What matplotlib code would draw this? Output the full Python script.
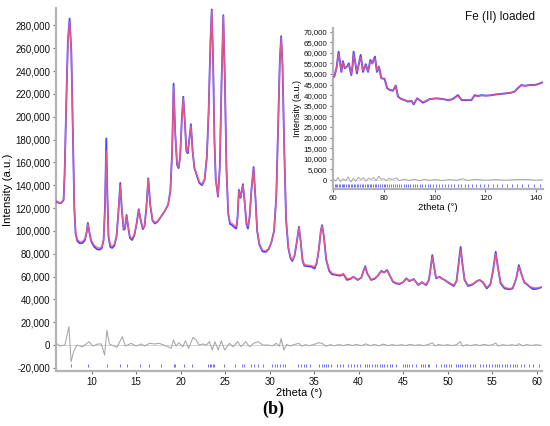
import matplotlib
matplotlib.use("Agg")
import matplotlib.pyplot as plt
from matplotlib.ticker import FuncFormatter

plt.rcParams['font.family'] = ['Liberation Sans', 'DejaVu Sans']

# ---------------- main pattern (2theta in deg, intensity in thousands) ----------------
tt = [6.00, 6.30, 6.60, 6.85, 6.97, 7.16, 7.34, 7.53, 7.72, 7.90, 8.06, 8.20, 8.40, 8.70, 9.00,
      9.25, 9.45, 9.58, 9.72, 9.95, 10.30, 10.60, 10.90, 11.15, 11.35, 11.50, 11.65, 11.78, 11.90,
      12.10, 12.30, 12.55, 12.80, 13.00, 13.22, 13.40, 13.60, 13.75, 13.93, 14.10, 14.30, 14.55,
      14.80, 15.05, 15.30, 15.50, 15.75, 15.95, 16.15, 16.37, 16.60, 16.85, 17.10, 17.40, 17.75,
      18.20, 18.60, 18.85, 19.05, 19.21, 19.40, 19.60, 19.78, 19.95, 20.15, 20.30, 20.48, 20.65,
      20.80, 20.95, 21.16, 21.35, 21.55, 21.80, 22.10, 22.40, 22.70, 22.95, 23.15, 23.35, 23.50,
      23.65, 23.80, 23.95, 24.20, 24.40, 24.60, 24.80, 24.98, 25.15, 25.35, 25.55, 25.80, 26.05,
      26.26, 26.40, 26.55, 26.74, 27.00, 27.20, 27.40, 27.56, 27.75, 27.95, 28.20, 28.40, 28.60,
      28.85, 29.20, 29.55, 29.90, 30.20, 30.50, 30.75, 30.95, 31.15, 31.30, 31.45, 31.65, 31.85,
      32.10, 32.35, 32.55, 32.80, 33.05, 33.30, 33.50, 33.70, 33.90, 34.30, 34.70, 35.05, 35.30,
      35.55, 35.75, 35.90, 36.10, 36.35, 36.70, 37.00, 37.40, 37.90, 38.30, 38.70, 39.10, 39.40,
      39.90, 40.30, 40.55, 40.75, 40.95, 41.40, 41.80, 42.20, 42.55, 42.85, 43.20, 43.50, 43.85,
      44.20, 44.60, 45.00, 45.36, 45.70, 46.20, 46.70, 47.10, 47.60, 47.90, 48.10, 48.28, 48.45,
      48.70, 49.10, 49.40, 49.66, 50.20, 50.70, 51.00, 51.25, 51.46, 51.65, 51.90, 52.30, 52.80,
      53.30, 53.60, 53.95, 54.40, 54.80, 55.10, 55.40, 55.65, 55.95, 56.40, 56.90, 57.30, 57.70,
      58.00, 58.30, 58.60, 59.00, 59.30, 59.60, 60.00, 60.50]

y_obs = [126, 124.5, 124.5, 127, 150, 214, 267, 286, 258, 185, 120, 98, 91, 89, 89.5,
         92, 99, 107, 100, 91, 86, 84, 83.5, 85, 92, 120, 181, 130, 95,
         86, 85, 87, 95, 115, 142, 118, 101, 102, 114, 104, 94, 92,
         96, 106, 119, 110, 101.5, 104, 120, 146, 122, 109, 106.5, 108, 112,
         117, 123, 135, 170, 229, 185, 158, 155, 165, 200, 217.5, 195, 170,
         168, 178, 193.5, 170, 155, 149, 142, 140, 145, 165, 205, 265, 294,
         250, 180, 145, 130, 155, 230, 289, 230, 155, 115, 106, 105, 103,
         102, 112, 136, 129, 141, 125, 106, 102, 112, 135, 156, 130, 100,
         88, 82, 81.5, 84, 90, 100, 130, 190, 250, 270.6, 245, 170, 110,
         85, 76, 73.6, 78, 90, 103.6, 90, 74, 69.5, 69, 68.6, 67, 72,
         85, 100, 105, 95, 75, 64.8, 62, 61.5, 60.7, 62, 57, 58, 59.8,
         57, 59, 65, 69, 63, 57, 58, 61, 65, 63.5, 65.7, 61, 55.5,
         54, 53.4, 55, 58.4, 56, 57.8, 52.5, 55, 52.5, 57, 68, 78.8, 70,
         58.4, 59.8, 58, 57, 54, 51.7, 56, 72, 86, 72, 57, 51.7, 53,
         56, 57, 55, 49.6, 53, 65, 81.7, 68, 54, 49.6, 48.8, 49.5, 58,
         70, 62, 55, 52.5, 50.5, 49, 49.2, 50.5]

y_calc = [126.5, 125, 125, 127.5, 150, 213, 265, 283, 256, 185, 121, 99.5, 92.5, 90.5, 91,
          93, 99.5, 106, 100, 92, 87.5, 85.5, 85, 86, 92.5, 118, 170, 128, 96,
          87.5, 87, 88, 95.5, 115, 140, 118, 102, 102.5, 113, 104.5, 95, 93.5,
          97, 106, 118, 110, 102.5, 104.5, 120, 145, 122, 109.5, 107.5, 108.5, 112,
          117, 123, 135, 169, 226, 185, 159, 156, 165, 199, 216, 195, 171,
          169, 178, 192, 170, 155, 150, 143, 141, 145.5, 165, 205, 264, 293,
          250, 180, 145.5, 131, 155, 230, 288, 230, 155, 116, 107.5, 106.5, 104.5,
          104, 112, 135, 130, 140, 125, 107, 104, 112, 135, 155, 130, 101,
          89, 83, 82.5, 84.5, 90, 100, 130, 190, 249, 269, 245, 170, 111,
          86, 77, 74.5, 78.5, 90, 103, 90, 75, 70.5, 70, 69.5, 68.5, 72.5,
          85, 99.5, 104, 95, 75.5, 66, 63, 62, 61.5, 62.5, 58, 58.5, 59.8,
          57.5, 59, 65, 68, 63, 57.5, 58.5, 61, 64.5, 63.5, 65, 61, 56,
          54.5, 54, 55, 58, 56.5, 57.5, 53, 55, 53, 57, 67.5, 77, 70,
          58.8, 59.5, 58, 57.2, 54.5, 52.5, 56, 71.5, 83.5, 71.5, 57.5, 52.5, 53.5,
          56, 57, 55.5, 50.5, 53.5, 65, 80, 68, 55, 50.5, 49.5, 50, 58,
          68.5, 62, 55.5, 53, 51, 50.5, 50, 50.8]

# difference curve (obs - calc), thousands
diff_tt = [6.0, 6.4, 7.0, 7.45, 7.7, 7.98, 8.35, 9.0, 9.7, 10.15, 10.7, 11.1, 11.46, 11.72, 12.0,
           12.85, 13.45, 13.8, 14.45, 15.0, 15.6, 15.95, 16.5, 17.1, 17.6, 18.4, 18.95, 19.2,
           19.5, 19.8, 20.25, 20.55, 20.9, 21.4, 21.75, 22.06, 22.5, 22.9, 23.25, 23.56, 23.86,
           24.23, 24.57, 24.94, 25.5, 25.9, 26.4, 26.8, 27.3, 27.75, 28.2, 28.7, 29.25, 29.8,
           30.35, 30.75, 31.1, 31.3, 31.6, 31.9, 32.3, 32.8, 33.3, 33.6, 34.0, 34.5, 35.0, 35.5,
           35.9, 36.3, 36.8, 37.3, 37.8, 38.3, 38.8, 39.3, 39.8, 40.3, 40.8, 41.3, 41.8, 42.3,
           42.8, 43.3, 43.8, 44.3, 44.8, 45.3, 45.8, 46.3, 46.8, 47.3, 47.8, 48.3, 48.6, 49.0,
           49.5, 50.0, 50.5, 51.0, 51.4, 51.7, 52.1, 52.6, 53.1, 53.6, 54.1, 54.6, 55.1, 55.4,
           55.7, 56.2, 56.7, 57.2, 57.7, 58.0, 58.4, 58.9, 59.4, 59.9, 60.5]
diff_y = [2, -0.9, 0, 16, -14.6, -5.8, 0, -1.5, 2.9, -0.9, 0.9, 0.9, -8.8, 13, 0.9,
          -2, 7.3, -0.9, 1.5, -0.9, 0.9, -0.9, 1.5, 0.9, 1.5, -0.9, -2.9, 4.4,
          -0.9, 2, -1.5, 3.8, -2.9, 6.7, 4.4, 0, 0.9, 0, 2.9, -4.4, 2.9,
          -4.4, 3.8, -4.4, 1.5, -1.5, 2.9, -1.5, 2.9, -1.5, 1.5, 2.9, 0, 0,
          -0.6, 1.5, -1, 5.8, -4.4, 0.5, -0.8, 0.5, 1.5, -1, 0.3, -0.5, 0.5, 2.0,
          1.5, -1, 0.3, -0.6, 0.4, -0.5, 0.6, -0.4, 0.5, -0.6, 1.0, -0.5, 0.4, -0.6,
          0.8, -0.5, 0.3, -0.4, 0.3, -0.5, 0.6, -0.4, 0.3, -0.5, 0.4, 1.8, -0.8, 0.5,
          -0.4, 0.3, -0.5, 0.3, 2.9, -1.0, 0.3, -0.5, 0.4, -0.4, 0.5, -0.3, 0.4, 1.8,
          -0.8, 0.3, -0.4, 0.3, -0.5, 1.2, -0.6, 0.3, -0.4, 0.2, -0.2]

bragg = [7.64, 9.6, 11.68, 13.24, 13.98, 15.4, 16.44, 17.78, 19.25, 19.4, 20.4, 21.25, 23.1, 23.3,
         23.45, 23.6, 23.8, 24.82, 26.07, 26.9, 27.15, 27.9, 28.3, 28.7, 29.3, 30.3, 30.55, 30.85,
         31.15, 31.45, 31.7, 33.2, 33.5, 33.85, 34.1, 34.5, 35.6, 35.85, 36.1, 36.3, 36.55, 36.9,
         37.6, 37.95, 38.3, 38.8, 39.2, 39.45, 39.8, 40.1, 40.7, 40.95, 41.2, 41.55, 41.8, 42.1,
         42.4, 42.6, 42.9, 43.2, 43.5, 43.8, 44.2, 45.0, 45.2, 45.45, 45.7, 46.0, 46.5, 47.0,
         47.25, 47.5, 47.75, 47.95, 48.7, 49.3, 49.6, 49.85, 50.1, 50.4, 50.9, 51.15, 51.4,
         51.65, 51.9, 52.2, 52.5, 52.8, 53.1, 53.6, 54.0, 54.3, 54.7, 55.0, 55.3, 55.55, 55.8,
         56.1, 56.45, 56.7, 57.0, 57.3, 57.6, 57.85, 58.2, 58.6, 59.1, 59.6, 60.3]

# ---------------- inset (high angle) ----------------
in_tt = [60.5, 61.4, 62.2, 62.8, 63.3, 63.9, 64.6, 65.5, 66.2, 67.2, 67.7, 68.1, 68.8, 69.4, 70.2,
         70.9, 71.8, 72.9, 73.8, 74.7, 75.5, 76.5, 77.3, 78.1, 79.0, 80.3, 81.3, 82.3, 83.6,
         84.7, 85.6, 86.9, 88.2, 89.5, 90.9, 91.8, 93.1, 94.1, 95.4, 96.8, 98.1, 100.7, 103.3,
         105.3, 107.2, 109.2, 110.6, 112.5, 114.5, 115.8, 117.1, 118.4, 120.4, 122.4, 124.3,
         126.3, 128.3, 130.2, 131.5, 132.8, 134.2, 135.5, 137.4, 139.4, 140.7, 142.3]
in_obs = [48.8, 53, 60.5, 55, 51, 56, 52.7, 53.5, 55, 49.5, 54, 60.5, 55, 50.3, 55,
          59, 51, 54.6, 51, 56.6, 55, 58.2, 51, 53.5, 48, 47.7, 43.3, 42.5, 42.1,
          44.5, 39.3, 38.2, 37.7, 37, 37.3, 35.7, 38.5, 37.7, 36.5, 37.3, 38.2, 38.5, 38.2,
          37.6, 38.2, 40, 37.7, 37.7, 37.7, 40, 39.6, 40, 39.8, 40, 40.4,
          40.6, 40.9, 41.2, 41.7, 43.3, 44.8, 44.4, 44.8, 44.8, 45.2, 46.0]
in_calc = [48.6, 53, 59.5, 55, 51.5, 55.5, 53, 53.5, 54.5, 50, 54, 59.5, 55, 51, 55,
           58, 51.5, 54.2, 51.3, 56, 55, 57.5, 51.5, 53.5, 48, 47.7, 43.5, 42.7, 42.3,
           44.2, 39.5, 38.3, 37.8, 37.2, 37.4, 36, 38.3, 37.8, 36.8, 37.4, 38.2, 38.5, 38.2,
           37.7, 38.2, 39.6, 37.8, 37.8, 37.8, 39.7, 39.6, 39.8, 39.8, 40, 40.4,
           40.6, 40.9, 41.2, 41.7, 43.1, 44.6, 44.4, 44.8, 44.8, 45.2, 46.0]

in_diff_tt = [60.3, 61, 62, 63, 64, 65, 66, 67, 68, 69, 70, 71, 72, 73, 74, 75, 76, 77, 78, 79,
              80, 81, 82, 83, 84, 85, 86, 88, 90, 92, 94, 96, 98, 100, 103, 106, 109, 111, 113,
              116, 120, 124, 128, 132, 136, 140, 142.5]
in_diff_y = [0.3, -0.5, 1.2, -0.8, 0.6, -0.3, 1.5, -1.0, 0.8, -0.6, 1.2, 0.2, 1.0, -0.5, 0.9,
             0.2, 1.2, -0.4, 1.8, 0.3, 0.6, -0.3, 0.8, 0.2, 0.5, 1.0, -0.3, 0.4, -0.2, 0.4,
             -0.3, 0.3, -0.2, 0.2, -0.2, 0.2, -0.1, 0.6, -0.2, 0.3, -0.1, 0.2, -0.1, 0.2, 0.3,
             -0.1, 0.1]

in_bragg = [60.6, 61.2, 61.7, 62.3, 62.9, 63.4, 64.0, 64.5, 65.1, 65.8, 66.4, 66.9, 67.6, 68.2,
            68.8, 69.3, 70.0, 70.6, 71.3, 71.9, 72.5, 73.2, 73.8, 74.5, 75.1, 75.8, 76.4, 77.1,
            77.8, 78.4, 79.2, 79.9, 80.6, 81.4, 82.1, 82.9, 83.7, 84.4, 85.2, 86.1, 86.9, 87.8,
            88.6, 89.5, 90.4, 91.3, 92.3, 93.2, 94.2, 95.2, 96.2, 97.3, 98.3, 99.4, 100.5, 101.7,
            102.8, 104.0, 105.3, 106.5, 107.8, 109.1, 110.5, 111.9, 113.3, 114.8, 116.3, 117.9,
            119.5, 121.2, 122.9, 124.7, 126.5, 128.4, 130.4, 132.4, 134.5, 136.7, 139.0, 141.4]

yticks_main = list(range(-20, 281, 20))
xticks_main = [10, 15, 20, 25, 30, 35, 40, 45, 50, 55, 60]
yticks_in = list(range(0, 71, 5))
xticks_in = [60, 80, 100, 120, 140]

BLUE = '#4646ff'
RED = '#ff5c7c'
GRAY = '#a6a6a6'
TICKBLUE = '#7070ff'
SPINE = '#b4b4b4'

fmt = FuncFormatter(lambda v, p: f"{int(round(v * 1000)):,}")

fig = plt.figure(figsize=(5.5, 4.26), dpi=100)

def style(ax, fs):
    for s in ['top', 'right']:
        ax.spines[s].set_visible(False)
    for s in ['left', 'bottom']:
        ax.spines[s].set_color(SPINE)
        ax.spines[s].set_linewidth(1.6)
    ax.tick_params(axis='both', which='both', direction='out', length=2.5, width=0.8,
                   color='#777777', labelsize=fs, pad=1.5, labelcolor='#111111')
    ax.yaxis.set_major_formatter(fmt)

# main axes
ax = fig.add_axes([0.1018, 0.129, 0.8836, 0.852])
ax.axhline(0, color='#cccccc', lw=0.6, zorder=1)
ax.plot(diff_tt, diff_y, color=GRAY, lw=0.75, zorder=2)
ax.vlines(bragg, -19.6, -16.8, color=TICKBLUE, lw=0.7, zorder=2)
ax.plot(tt, y_obs, color=BLUE, lw=1.3, zorder=3)
ax.plot(tt, y_calc, color=RED, lw=1.0, alpha=0.85, zorder=4)
ax.set_xlim(6, 60.6)
ax.set_ylim(-22.8, 295.2)
ax.set_xticks(xticks_main)
ax.set_yticks(yticks_main)
style(ax, 7.0)
ax.set_xlabel('2theta (°)', fontsize=8, labelpad=1)
ax.set_ylabel('Intensity (a.u.)', fontsize=8.2, labelpad=2)

# inset
ai = fig.add_axes([0.6055, 0.5563, 0.3818, 0.378])
ai.patch.set_alpha(0)
ai.axhline(0, color='#d4d4d4', lw=0.5, zorder=1)
ai.plot(in_diff_tt, in_diff_y, color=GRAY, lw=0.7, zorder=2)
ai.vlines(in_bragg, -3.4, -1.7, color=TICKBLUE, lw=0.7, zorder=2)
ai.plot(in_tt, in_obs, color=BLUE, lw=1.4, zorder=3)
ai.plot(in_tt, in_calc, color=RED, lw=0.9, alpha=0.8, zorder=4)
ai.set_xlim(60, 142.7)
ai.set_ylim(-4.25, 71.7)
ai.set_xticks(xticks_in)
ai.set_yticks(yticks_in)
style(ai, 5.7)
ai.set_xlabel('2theta (°)', fontsize=6.8, labelpad=1)
ai.set_ylabel('Intensity (a.u.)', fontsize=6.4, labelpad=1)

fig.text(0.909, 0.96, 'Fe (II) loaded', fontsize=8.5, ha='center', va='center', color='#111111')
fig.text(0.496, 0.04, '(b)', fontsize=13, ha='center', va='center', fontweight='bold',
         family=['Liberation Serif', 'DejaVu Serif'])

fig.savefig('out.png', dpi=100)
